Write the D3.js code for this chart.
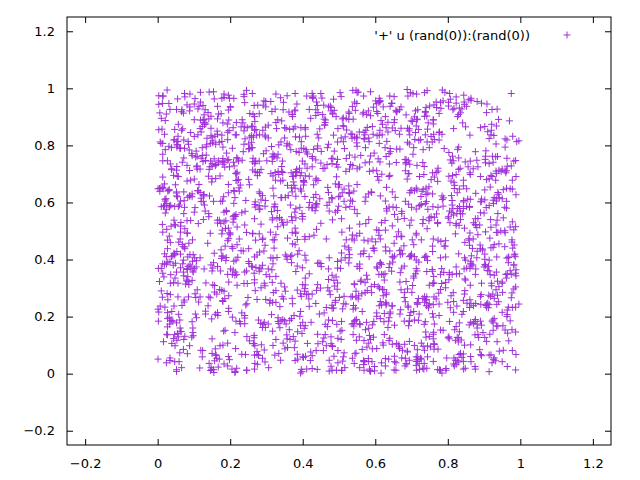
<!DOCTYPE html>
<html><head><meta charset="utf-8">
<script src="https://cdn.jsdelivr.net/npm/d3@7"></script>
<style>body{margin:0;background:#fff}text{font-family:"DejaVu Sans",sans-serif;font-size:13px}</style>
</head><body><svg id="c" width="640" height="480"></svg>
<script>
var xTicks = [-0.2, 0, 0.2, 0.4, 0.6, 0.8, 1, 1.2];
var yTicks = [-0.2, 0, 0.2, 0.4, 0.6, 0.8, 1, 1.2];
var legendLabel = "'+' u (rand(0)):(rand(0))";
var pointDigits =
"482913071356934702215088667431390775803129556847120603741260298954613387" +
"049521876190345678932045157309703884268742584016411973690237825561072819" +
"963405318650740128595934201367877246436591129880652013987352014689763174" +
"305826548117821490262743179605934868713059400312086457652971238804471635" +
"590284815746027193369550754831101682688079942617213345576908830420047856" +
"364187719263185724497038922691638372271855003944846510529717117406780153" +
"958823241569673480406735035277892604154988587120326341761839019665490257" +
"843016267901628444074982379510195663550376912231807749436628128907685035" +
"721588033174354860689297982745146011507543267329803692418480659106039718" +
"870472225640396813512059744397188536081324937761630245372908455112016587" +
"787956293430569824914360150071334698823165468792627537091845776204240950" +
"610678978532183289352416047137539892716243891602269584437081124765560323" +
"005649818027682751496393251805933710773468027214165538699886342709584134" +
"266105478921711350832647394280103582658917527441919066160804085269742358" +
"381695640430236778876523013947549809152311407168692594323586860232978647" +
"514073061790206348780951347521933294624182095630758704281837571042864965" +
"198725426063893317760198032584649406517830380492145266975728211639006914" +
"835540582107727469318385069858447613950321196273622935471188708410024576" +
"543829150736914065267318762942081675339047694183805570632814177292438506" +
"025138916475290853613742848019731526174604962335407863578291326980089417" +
"669354804122150683437596926049715730081492262867513245749130374691890862" +
"208531357974003216641789790447186152925608532733467590019384864245246012" +
"714890101566378921581043843678436925067239905781299347622100180754520469" +
"977154363802053428758210641937114663499587296041830716285524557369010895" +
"422076689811170538936927324705768952543184002369861493197852655618083340" +
"309247716084888521240356052713594839667925131570473406846279924188278064" +
"161733493012780295620874057586832147386419902644715360245993538729159208" +
"058461977283631578814925346107193846569012481736268593727051001648852370" +
"496318133875760242914589280637647410038792573154819660376204695837111928" +
"839057402661228175557384024910168746691233987515331890760472465098088623" +
"126604572739904380289162635847777014052926418350964207314568190773597431" +
"230865849398506120072637371494958711683054163279426982805347036185694410" +
"742019218347917654499620055802334176871238611965177490280576745633052008" +
"587763322469096394863180400551214837738916568042950717109294671482032645" +
"953546381705275033823948646237007812496572189407736985550829264106413770" +
"318099708641112526574853920317035460847291269708381622503985697413042184" +
"680377259834147902736250490566183741925178052623614389967407329545801126" +
"266940441312598025875183332769014653469301794466193820725054537936200487" +
"883725107196638584321440979832056269762105442677216398914007398561141893" +
"509634695520823970075438251787668209132747987304350826582159404671817055" +
"034926922184216558653412180879841560769933478129057691722015396704960348" +
"617241243607844976195218564085071398409785732540126627988364315919604201" +
"392583700412177836861259028640541167934495245012657923487780106374823526" +
"772014154389369651009807611836296450860583417262553987142036735173291941" +
"458125830756072343988691606370280911175434527658843218394002616887021563" +
"900374261792749546317149182620095327486061653890233748880406528635117269" +
"141550802938476277630862350185972514219706384945101368713492557021066853" +
"267409935613481098048335706792123866592171859468270745344529617383902127" +
"826047473290010585759316238851693701312954881160062472536839440015149672" +
"374858694113907233020611862745280359758447516021147860671935089381982504" +
"604213232564811738450982975348193027628605063790396271537486713043760889" +
"118952845367285609902401357122760138441790074583519244996816152370673561" +
"550797031642698215816034183968427755263909371264928452706218039187544070" +
"082365757812340617928193614472591042047586852937165839784623320761426018" +
"795012508496063371399745223680907915139238647103681284572319044695919837" +
"217880462137883544680267105759316320794409968115253662430786827901372455" +
"941305608753156422045819776912528631282577713650379924195060863387441798" +
"356136027438890271514604683252940891128367305871461720773583957445205016" +
"734698862310219452379046568973014385640124497859816253180794053726342539";
function readPoints(s, swap) {
  var out = [];
  for (var i = 0; i + 6 <= s.length; i += 6) {
    var a = +s.substr(i, 3) / 1000, b = +s.substr(i + 3, 3) / 1000;
    out.push(swap ? [b, a] : [a, b]);
  }
  return out;
}
var points = readPoints(pointDigits, false)
  .concat(readPoints(pointDigits.slice(3) + pointDigits.slice(0, 3), true))
  .concat(readPoints(pointDigits.split("").reverse().join(""), false));

var svg = d3.select("#c");
var L = 67, R = 611, T = 17, B = 445;
var x = d3.scaleLinear().domain([-0.25, 1.25]).range([L, R]);
var y = d3.scaleLinear().domain([-0.25, 1.25]).range([B, T]);

var fmt = function(d){ return d3.format("")(+d.toFixed(1)); };
svg.append("g").attr("transform", "translate(0," + B + ")")
  .call(d3.axisBottom(x).tickValues(xTicks).tickFormat(fmt).tickSizeInner(-6).tickSizeOuter(0).tickPadding(14));
svg.append("g").attr("transform", "translate(0," + T + ")")
  .call(d3.axisTop(x).tickValues(xTicks).tickFormat("").tickSizeInner(-6).tickSizeOuter(0));
svg.append("g").attr("transform", "translate(" + L + ",0)")
  .call(d3.axisLeft(y).tickValues(yTicks).tickFormat(fmt).tickSizeInner(-6).tickSizeOuter(0).tickPadding(12));
svg.append("g").attr("transform", "translate(" + R + ",0)")
  .call(d3.axisRight(y).tickValues(yTicks).tickFormat("").tickSizeInner(-6).tickSizeOuter(0));
svg.selectAll(".domain").remove();
svg.selectAll(".tick text").attr("fill", "#000").style("font-size", "13px");
svg.append("rect").attr("x", L).attr("y", T).attr("width", R - L).attr("height", B - T)
  .attr("fill", "none").attr("stroke", "#000");

var plus = function(g, px, py) {
  g.append("path").attr("d", "M" + (px - 3.5) + "," + py + "h7M" + px + "," + (py - 3.5) + "v7");
};
var pts = svg.append("g").attr("stroke", "#9f30d8").attr("stroke-width", 1);
points.forEach(function(p){ plus(pts, x(p[0]), y(p[1])); });

svg.append("text").attr("x", 530).attr("y", 40).attr("text-anchor", "end").text(legendLabel);
var lg = svg.append("g").attr("stroke", "#9f30d8");
plus(lg, 567, 35);
</script></body></html>
